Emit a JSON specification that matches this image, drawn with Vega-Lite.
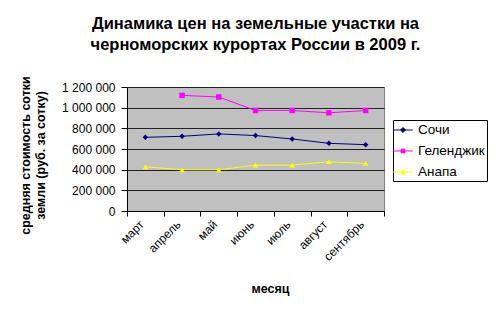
{
  "$schema": "https://vega.github.io/schema/vega-lite/v6.json",
  "width": 257,
  "height": 124,
  "autosize": {"type": "none"},
  "padding": {"left": 127, "top": 87, "right": 116, "bottom": 101},
  "background": "white",
  "config": {
    "font": "Liberation Sans",
    "locale": {"number": {"decimal": ",", "thousands": " ", "grouping": [3], "currency": ["", ""]}},
    "view": {"fill": "#C0C0C0", "stroke": "#808080"}
  },
  "title": {
    "text": ["Динамика цен на земельные участки на", "черноморских курортах России в 2009 г."],
    "fontSize": 16.5,
    "fontWeight": "bold",
    "lineHeight": 21,
    "offset": 22,
    "color": "black",
    "font": "Liberation Sans"
  },
  "data": {
    "values": [
      {"month": "март", "city": "Сочи", "price": 713000},
      {"month": "апрель", "city": "Сочи", "price": 723000},
      {"month": "май", "city": "Сочи", "price": 746000},
      {"month": "июнь", "city": "Сочи", "price": 730000},
      {"month": "июль", "city": "Сочи", "price": 697000},
      {"month": "август", "city": "Сочи", "price": 655000},
      {"month": "сентябрь", "city": "Сочи", "price": 642000},
      {"month": "апрель", "city": "Геленджик", "price": 1119000},
      {"month": "май", "city": "Геленджик", "price": 1103000},
      {"month": "июнь", "city": "Геленджик", "price": 973000},
      {"month": "июль", "city": "Геленджик", "price": 973000},
      {"month": "август", "city": "Геленджик", "price": 950000},
      {"month": "сентябрь", "city": "Геленджик", "price": 973000},
      {"month": "март", "city": "Анапа", "price": 428000},
      {"month": "апрель", "city": "Анапа", "price": 399000},
      {"month": "май", "city": "Анапа", "price": 399000},
      {"month": "июнь", "city": "Анапа", "price": 444000},
      {"month": "июль", "city": "Анапа", "price": 444000},
      {"month": "август", "city": "Анапа", "price": 477000},
      {"month": "сентябрь", "city": "Анапа", "price": 460000}
    ]
  },
  "encoding": {
    "x": {
      "field": "month",
      "type": "ordinal",
      "sort": ["март", "апрель", "май", "июнь", "июль", "август", "сентябрь"],
      "scale": {"type": "band", "paddingInner": 0, "paddingOuter": 0},
      "axis": {
        "title": "месяц",
        "titleFontSize": 12.5,
        "titleFontWeight": "bold",
        "titleColor": "black",
        "titleX": 143,
        "titleY": 77,
        "titleBaseline": "middle",
        "labelAngle": -45,
        "labelFontSize": 12,
        "labelColor": "black",
        "labelAlign": "right",
        "labelBaseline": "middle",
        "labelPadding": 6,
        "labelOffset": -4,
        "tickBand": "extent",
        "tickSize": 5,
        "tickColor": "black",
        "domainColor": "black",
        "grid": false
      }
    },
    "y": {
      "field": "price",
      "type": "quantitative",
      "scale": {"domain": [0, 1200000], "nice": false},
      "axis": {
        "values": [0, 200000, 400000, 600000, 800000, 1000000, 1200000],
        "format": ",d",
        "grid": true,
        "gridColor": "#222222",
        "gridOpacity": 1,
        "domainColor": "black",
        "tickColor": "black",
        "tickSize": 6,
        "labelFontSize": 12,
        "labelColor": "black",
        "labelPadding": 6,
        "title": ["средняя стоимость сотки", "земли (руб. за сотку)"],
        "titleFontSize": 12.5,
        "titleFontWeight": "bold",
        "titleLineHeight": 15,
        "titlePadding": 14,
        "titleColor": "black",
        "titleY": 68
      }
    },
    "color": {
      "field": "city",
      "type": "nominal",
      "scale": {"domain": ["Сочи", "Геленджик", "Анапа"], "range": ["#000080", "#FF00FF", "#FFFF00"]},
      "legend": {
        "orient": "none",
        "legendX": 266,
        "legendY": 33,
        "title": null,
        "strokeColor": "black",
        "fillColor": "white",
        "padding": 2,
        "symbolSize": 225,
        "rowPadding": 6,
        "labelFontSize": 13.5,
        "labelColor": "black",
        "labelOffset": 7,
        "encode": {
          "symbols": {
            "update": {
              "shape": {"signal": "datum.value === 'Сочи' ? 'M-1.3,0H1.3M0,-0.33L0.33,0L0,0.33L-0.33,0Z' : datum.value === 'Геленджик' ? 'M-1.3,0H1.3M-0.25,-0.25H0.25V0.25H-0.25Z' : 'M-1.3,0H1.3M0,-0.33L0.33,0.25H-0.33Z'"},
              "fill": {"scale": "color", "field": "value"},
              "stroke": {"scale": "color", "field": "value"},
              "strokeWidth": {"value": 1},
              "opacity": {"value": 1},
              "fillOpacity": {"value": 1}
            }
          }
        }
      }
    }
  },
  "layer": [
    {"mark": {"type": "line", "strokeWidth": 1}},
    {
      "transform": [{"filter": "datum.city === 'Сочи'"}],
      "mark": {"type": "point", "filled": true, "size": 30, "opacity": 1, "shape": "diamond"}
    },
    {
      "transform": [{"filter": "datum.city === 'Геленджик'"}],
      "mark": {"type": "point", "filled": true, "size": 30, "opacity": 1, "shape": "square"}
    },
    {
      "transform": [{"filter": "datum.city === 'Анапа'"}],
      "mark": {"type": "point", "filled": true, "size": 30, "opacity": 1, "shape": "triangle-up"}
    }
  ]
}
